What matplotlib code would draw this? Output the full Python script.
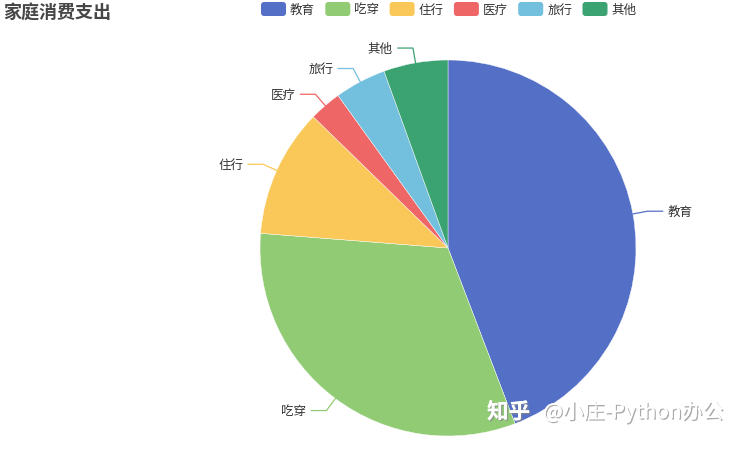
import numpy as np
import matplotlib
import matplotlib.pyplot as plt
from matplotlib.patches import FancyBboxPatch
import matplotlib.patheffects as pe

matplotlib.use('agg')

plt.rcParams['font.family'] = ['Noto Sans CJK SC', 'DejaVu Sans']

# data
categories = ["教育", "吃穿", "住行", "医疗", "旅行", "其他"]
values = [8000, 5800, 2000, 500, 800, 1000]
colors = ["#5470c6", "#91cc75", "#fac858", "#ee6666", "#73c0de", "#3ba272"]
title = "家庭消费支出"
watermark = "知乎 @小庄-Python办公"

W, H = 743, 452
fig = plt.figure(figsize=(W / 100, H / 100), dpi=100)
ax = fig.add_axes([0, 0, 1, 1])

cx, cy, r = 448, H - 249, 188
wedges, _ = ax.pie(values, colors=colors, startangle=90, counterclock=False,
                   center=(cx, cy), radius=r, frame=True,
                   wedgeprops=dict(edgecolor='white', linewidth=0.3))
ax.set_xlim(0, W)
ax.set_ylim(0, H)
ax.axis('off')

# outside labels with echarts-like leader lines
len1, len2, gap = 15, 15, 5
for w, name, c in zip(wedges, categories, colors):
    mid = np.deg2rad((w.theta1 + w.theta2) / 2)
    dx, dy = np.cos(mid), np.sin(mid)
    p0 = (cx + r * dx, cy + r * dy)
    p1 = (cx + (r + len1) * dx, cy + (r + len1) * dy)
    side = 1 if dx >= 0 else -1
    p2 = (p1[0] + side * len2, p1[1])
    ax.plot([p0[0], p1[0], p2[0]], [p0[1], p1[1], p2[1]], color=c, lw=0.9)
    ax.text(p2[0] + side * gap, p2[1], name, fontsize=9, color='#333333',
            ha='left' if side > 0 else 'right', va='center')

# title
fig.text(3 / W, 1 - 12 / H, title, fontsize=13, fontweight='bold',
         color='#464646', ha='left', va='center')

# legend
lx, step = 261, 64.3
for i, (name, c) in enumerate(zip(categories, colors)):
    x = lx + i * step
    box = FancyBboxPatch((x, H - 10 - 7), 25, 14,
                         boxstyle="round,pad=0,rounding_size=3",
                         facecolor=c, edgecolor='none')
    ax.add_patch(box)
    ax.text(x + 29, H - 10, name, fontsize=9, color='#333333',
            ha='left', va='center')

# watermark
shadow = [pe.withSimplePatchShadow(offset=(1, -1), shadow_rgbFace='#888888',
                                   alpha=0.7),
          pe.Normal()]
ax.text(487, H - 413, watermark[:2], fontsize=15.5, fontweight='bold',
        color='white', ha='left', va='center', path_effects=shadow)
ax.text(543, H - 413, watermark[3:], fontsize=15, color='white', ha='left',
        va='center', path_effects=shadow)

fig.savefig('out.png', dpi=100)
